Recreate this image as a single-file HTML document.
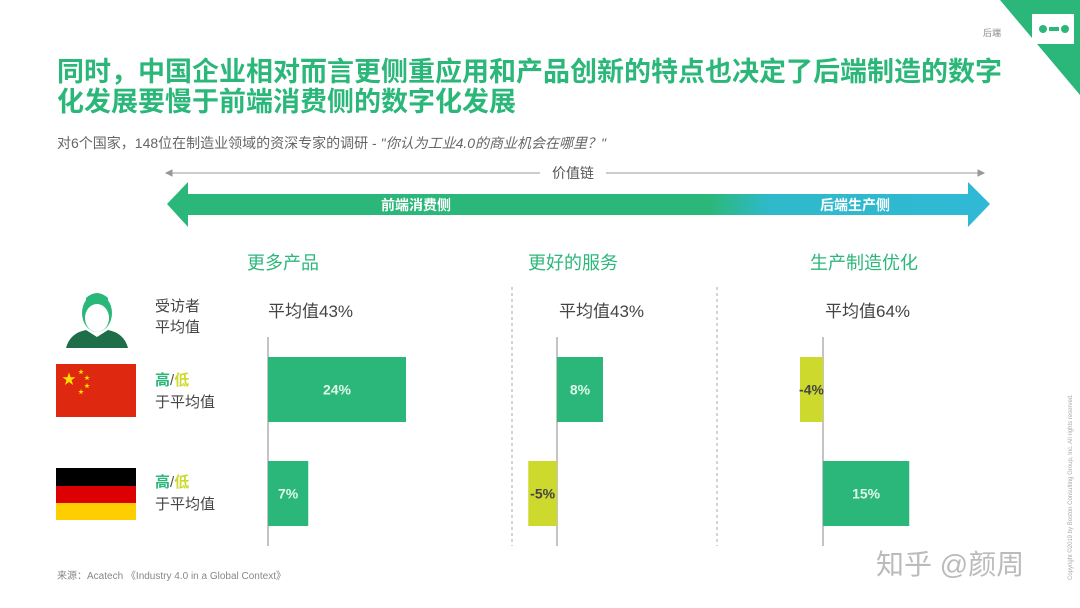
<!DOCTYPE html>
<html><head><meta charset="utf-8">
<style>
body{margin:0;width:1080px;height:608px;background:#fff;overflow:hidden;font-family:"Liberation Sans","Noto Sans CJK SC",sans-serif;}
svg{display:block}
text{font-family:"Liberation Sans","Noto Sans CJK SC",sans-serif}
</style></head><body>
<svg id="chart" width="1080" height="608" viewBox="0 0 1080 608">
<defs>
<linearGradient id="grad" x1="0" x2="1" y1="0" y2="0">
<stop offset="0" stop-color="#2cb77a"/><stop offset="0.66" stop-color="#2cb77a"/><stop offset="0.73" stop-color="#2fb9c9"/><stop offset="1" stop-color="#2fb9d6"/>
</linearGradient>
</defs>
<polygon points="1000,0 1080,0 1080,95" fill="#2cb77a"/>
<rect x="1032" y="14" width="42" height="30" fill="#fff"/>
<g fill="#2cb77a"><circle cx="1043" cy="29" r="4"/><circle cx="1065" cy="29" r="4"/><rect x="1049" y="27" width="10" height="4"/></g>
<text x="983" y="36" font-size="9" fill="#888">后端</text>
<text x="57" y="81" font-size="27" fill="#2cb77a" font-weight="bold">同时，中国企业相对而言更侧重应用和产品创新的特点也决定了后端制造的数字</text>
<text x="57" y="111" font-size="27" fill="#2cb77a" font-weight="bold">化发展要慢于前端消费侧的数字化发展</text>
<text x="57" y="148" font-size="14" fill="#666">对6个国家，148位在制造业领域的资深专家的调研 - <tspan font-style="italic">"你认为工业4.0的商业机会在哪里？"</tspan></text>
<g stroke="#999" stroke-width="1">
<line x1="168" y1="173" x2="540" y2="173"/><line x1="606" y1="173" x2="982" y2="173"/>
<polygon points="166,173 172,170 172,176" fill="#999"/><polygon points="984,173 978,170 978,176" fill="#999"/>
</g>
<text x="573" y="178" font-size="14" fill="#555" text-anchor="middle">价值链</text>
<polygon points="167,204 188,182 188,194 968,194 968,182 990,204 968,227 968,215 188,215 188,227" fill="url(#grad)"/>
<text x="416" y="210" font-size="14" fill="#fff" font-weight="bold" text-anchor="middle">前端消费侧</text>
<text x="855" y="210" font-size="14" fill="#fff" font-weight="bold" text-anchor="middle">后端生产侧</text>
<text x="283" y="269" font-size="18" fill="#2cb77a" text-anchor="middle">更多产品</text>
<text x="573" y="269" font-size="18" fill="#2cb77a" text-anchor="middle">更好的服务</text>
<text x="864" y="269" font-size="18" fill="#2cb77a" text-anchor="middle">生产制造优化</text>
<g>
<ellipse cx="97" cy="313" rx="15" ry="19" fill="#2cb77a"/>
<ellipse cx="97" cy="318" rx="12" ry="14" fill="#fff"/>
<path d="M86 304 Q97 292 108 304 L108 298 Q97 288 86 298Z" fill="#2cb77a"/>
<path d="M66 348 Q70 333 86 330 L97 337 L108 330 Q124 333 128 348Z" fill="#1d6e49"/>
</g>
<text x="155" y="311" font-size="15" fill="#444"><tspan x="155">受访者</tspan><tspan x="155" dy="21">平均值</tspan></text>
<g><rect x="56" y="364" width="80" height="53" fill="#de2910"/><text x="62" y="384" font-size="14" fill="#ffde00">★</text><text x="78" y="374" font-size="6" fill="#ffde00">★</text><text x="84" y="380" font-size="6" fill="#ffde00">★</text><text x="84" y="388" font-size="6" fill="#ffde00">★</text><text x="78" y="394" font-size="6" fill="#ffde00">★</text></g>
<g><rect x="56" y="468" width="80" height="18" fill="#000"/><rect x="56" y="486" width="80" height="17" fill="#dd0000"/><rect x="56" y="503" width="80" height="17" fill="#ffce00"/></g>
<text x="155" y="385" font-size="15"><tspan fill="#2cb77a" font-weight="bold">高</tspan><tspan fill="#555">/</tspan><tspan fill="#cdd92c" font-weight="bold">低</tspan><tspan x="155" dy="22" fill="#444">于平均值</tspan></text>
<text x="155" y="487" font-size="15"><tspan fill="#2cb77a" font-weight="bold">高</tspan><tspan fill="#555">/</tspan><tspan fill="#cdd92c" font-weight="bold">低</tspan><tspan x="155" dy="22" fill="#444">于平均值</tspan></text>
<line x1="717" y1="287" x2="717" y2="546" stroke="#aaa" stroke-dasharray="3,3"/>
<line x1="512" y1="287" x2="512" y2="546" stroke="#aaa" stroke-dasharray="3,3"/>
<g id="bars"></g>
<text x="57" y="579" font-size="10" fill="#888">来源：Acatech 《Industry 4.0 in a Global Context》</text>
<text x="876" y="574" font-size="28" fill="#bbb">知乎 @颜周</text>
<text transform="translate(1072,580) rotate(-90)" font-size="6" fill="#aaa">Copyright ©2019 by Boston Consulting Group, Inc. All rights reserved.</text>
</svg>
<script>
const categories = ["更多产品", "更好的服务", "生产制造优化"];
const averages = [43, 43, 64];
const chinaValues = [24, 8, -4];
const germanyValues = [7, -5, 15];
const axisX = [268, 557, 823];
const pxPerPct = 5.75;
const rowY = [357, 461];
const barH = 65;
const g = document.getElementById('bars');
const NS = 'http://www.w3.org/2000/svg';
function xScale(i, v){ return axisX[i] + v * pxPerPct; }
categories.forEach((c, i) => {
  const t = document.createElementNS(NS, 'text');
  t.setAttribute('x', axisX[i] + (i===0?0:2));
  t.setAttribute('y', 317);
  t.setAttribute('font-size', '17');
  t.setAttribute('fill', '#444');
  t.textContent = '平均值' + averages[i] + '%';
  
  
  g.appendChild(t);
  const l = document.createElementNS(NS, 'line');
  l.setAttribute('x1', axisX[i]); l.setAttribute('x2', axisX[i]);
  l.setAttribute('y1', 337); l.setAttribute('y2', 546);
  l.setAttribute('stroke', '#888');
  
  
  g.appendChild(l);
  [chinaValues, germanyValues].forEach((arr, r) => {
    const v = arr[i];
    const x0 = xScale(i, 0), x1 = xScale(i, v);
    const rect = document.createElementNS(NS, 'rect');
    rect.setAttribute('x', Math.min(x0, x1));
    rect.setAttribute('y', rowY[r]);
    rect.setAttribute('width', Math.abs(x1 - x0));
    rect.setAttribute('height', barH);
    rect.setAttribute('fill', v >= 0 ? '#2cb77a' : '#cdd92c');
    
    
    g.appendChild(rect);
    const lbl = document.createElementNS(NS, 'text');
    lbl.setAttribute('x', (x0 + x1) / 2);
    lbl.setAttribute('y', rowY[r] + barH / 2 + 5);
    lbl.setAttribute('text-anchor', 'middle');
    lbl.setAttribute('font-size', '14');
    lbl.setAttribute('font-weight', 'bold');
    lbl.setAttribute('fill', v >= 0 ? '#dff7ea' : '#444');
    lbl.textContent = v + '%';
    
    
    g.appendChild(lbl);
  });
});
</script>
</body></html>
